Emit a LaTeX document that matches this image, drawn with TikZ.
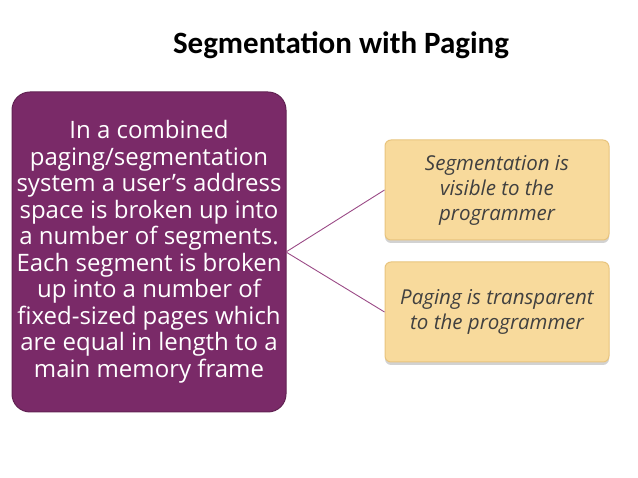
\documentclass[tikz,border=0pt]{standalone}
\usetikzlibrary{shadows}
\usepackage{fontspec}
\setmainfont{Carlito}
\newfontfamily\bodyf{Open Sans}
\definecolor{purp}{HTML}{7A2A68}
\definecolor{tan}{HTML}{F8DA9C}
\definecolor{tanb}{HTML}{E8C47E}
\definecolor{linec}{HTML}{9A4A86}
\begin{document}
\begin{tikzpicture}[x=1pt,y=-1pt,
  bigbox/.style={rounded corners=18pt,fill=purp,draw=purp!80!black,line width=1pt,text=white,minimum width=274pt,minimum height=320pt,inner sep=0pt,align=center,font=\bodyf\fontsize{24}{26.5}\selectfont},
  smallbox/.style={rounded corners=6pt,fill=tan,draw=tanb,line width=1pt,minimum width=224pt,minimum height=100pt,inner sep=0pt,align=center,text=black!75,font=\bodyf\itshape\fontsize{20.5}{25}\selectfont,
    drop shadow={shadow xshift=0pt,shadow yshift=-3pt,fill=black!35}},
  conn/.style={draw=linec,line width=0.9pt}]
\useasboundingbox (0,0) rectangle (638,478);
\node[font=\bfseries\fontsize{31}{35}\selectfont] (title) at (341,45) {Segmentation with Paging};
\node[bigbox] (left) at (149,252) {In a combined\\paging/segmentation\\system a user’s address\\space is broken up into\\a number of segments.\\Each segment is broken\\up into a number of\\fixed-sized pages which\\are equal in length to a\\main memory frame};
\node[smallbox] (r1) at (497,190) {Segmentation is\\visible to the\\programmer};
\node[smallbox] (r2) at (497,312) {Paging is transparent\\to the programmer};
\coordinate (j) at (286,252);
\draw[conn] (j) -- (r1.west);
\draw[conn] (j) -- (r2.west);
\end{tikzpicture}
\end{document}
